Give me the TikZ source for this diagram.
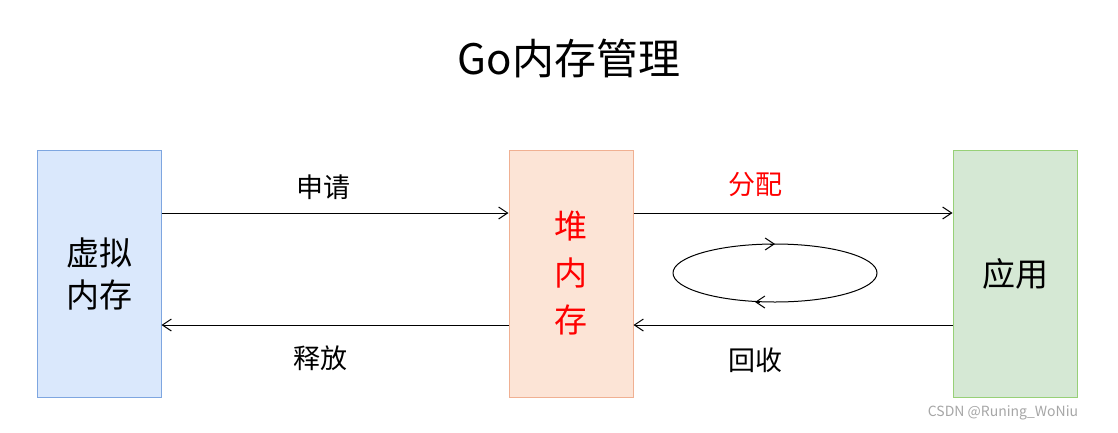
\documentclass[tikz,border=0pt]{standalone}
\usepackage{fontspec}
\setmainfont{Noto Sans CJK SC}
\usetikzlibrary{arrows.meta,shapes.geometric}
\begin{document}
\begin{tikzpicture}[x=1pt,y=-1pt,
  box/.style={minimum width=124pt,minimum height=247pt,line width=1pt,inner sep=0pt,align=center,font=\fontsize{33}{42}\selectfont},
  lbl/.style={font=\fontsize{27}{30}\selectfont},
  arr/.style={line width=1pt,-{Straight Barb[length=9pt,width=12pt]}}]
\useasboundingbox (0,0) rectangle (1118,432);
\node[font=\fontsize{42}{48}\selectfont] (title) at (569,58) {Go内存管理};
\node[box,draw={rgb,255:red,126;green,166;blue,224},fill={rgb,255:red,218;green,232;blue,252}] (v) at (99,273.5) {虚拟\\内存};
\node[box,draw={rgb,255:red,240;green,176;blue,146},fill={rgb,255:red,252;green,228;blue,214},text=red,font=\fontsize{33}{47}\selectfont] (h) at (571,273.5) {堆\\内\\存};
\node[box,draw={rgb,255:red,151;green,208;blue,119},fill={rgb,255:red,213;green,232;blue,212}] (a) at (1015,273.5) {应用};
\draw[arr] (v.east|-0,213) -- (h.west|-0,213);
\draw[arr] (h.west|-0,325) -- (v.east|-0,325);
\draw[arr] (h.east|-0,213) -- (a.west|-0,213);
\draw[arr] (a.west|-0,325) -- (h.east|-0,325);
\node[lbl] (l1) at (323,187) {申请};
\node[lbl] (l2) at (320,358) {释放};
\node[lbl,text=red] (l3) at (755,185) {分配};
\node[lbl] (l4) at (755,360) {回收};
\node[draw,ellipse,line width=1pt,minimum width=204pt,minimum height=58pt,inner sep=0pt] (e) at (775,273) {};
\coordinate (t1) at (770,244);
\coordinate (t2) at (775,244);
\coordinate (b1) at (760,302);
\coordinate (b2) at (755,302);
\draw[arr] (t1) -- (t2);
\draw[arr] (b1) -- (b2);
\node[text=gray!70,font=\fontsize{14}{16}\selectfont] (wm) at (1003,413) {CSDN @Runing\_WoNiu};
\end{tikzpicture}
\end{document}
